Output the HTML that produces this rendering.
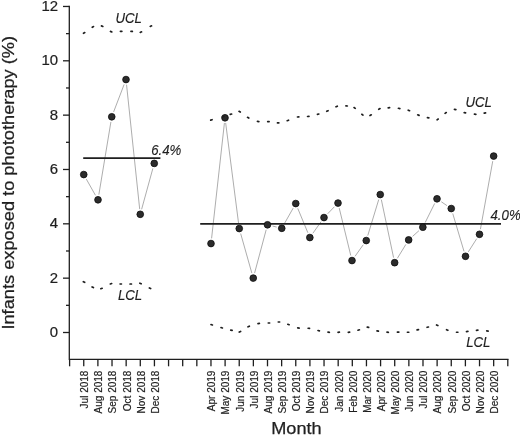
<!DOCTYPE html>
<html><head><meta charset="utf-8"><title>Infants exposed to phototherapy</title>
<style>
html,body{margin:0;padding:0;background:#fff;}
body{width:520px;height:435px;overflow:hidden;}
svg{display:block;font-family:"Liberation Sans",Arial,sans-serif;fill:#1f1f1f;}
.tl{font-size:13.8px;stroke:#1f1f1f;stroke-width:0.2px;}
.xl{font-size:10px;stroke:#1f1f1f;stroke-width:0.2px;}
.it{font-size:13.3px;font-style:italic;stroke:#1f1f1f;stroke-width:0.15px;}
.ti{font-size:17px;stroke:#1f1f1f;stroke-width:0.25px;}
</style></head><body>
<svg width="520" height="435" viewBox="0 0 520 435">
<rect width="520" height="435" fill="#fff"/>

<g stroke="#1f1f1f" stroke-width="1.3" fill="none" stroke-linecap="butt">
<path d="M69.3 5.8V359.35H508.5"/>
<path d="M63 332.50H69.3"/>
<path d="M66 305.33H69.3"/>
<path d="M63 278.16H69.3"/>
<path d="M66 250.99H69.3"/>
<path d="M63 223.82H69.3"/>
<path d="M66 196.65H69.3"/>
<path d="M63 169.48H69.3"/>
<path d="M66 142.31H69.3"/>
<path d="M63 115.14H69.3"/>
<path d="M66 87.97H69.3"/>
<path d="M63 60.80H69.3"/>
<path d="M66 33.63H69.3"/>
<path d="M63 6.46H69.3"/>
<path d="M69.61 359.35V366.3"/>
<path d="M83.75 359.35V366.3"/>
<path d="M97.89 359.35V366.3"/>
<path d="M112.02 359.35V366.3"/>
<path d="M126.16 359.35V366.3"/>
<path d="M140.29 359.35V366.3"/>
<path d="M154.43 359.35V366.3"/>
<path d="M168.56 359.35V366.3"/>
<path d="M182.69 359.35V366.3"/>
<path d="M196.83 359.35V366.3"/>
<path d="M210.97 359.35V366.3"/>
<path d="M225.10 359.35V366.3"/>
<path d="M239.23 359.35V366.3"/>
<path d="M253.37 359.35V366.3"/>
<path d="M267.50 359.35V366.3"/>
<path d="M281.64 359.35V366.3"/>
<path d="M295.77 359.35V366.3"/>
<path d="M309.91 359.35V366.3"/>
<path d="M324.04 359.35V366.3"/>
<path d="M338.18 359.35V366.3"/>
<path d="M352.31 359.35V366.3"/>
<path d="M366.45 359.35V366.3"/>
<path d="M380.58 359.35V366.3"/>
<path d="M394.72 359.35V366.3"/>
<path d="M408.86 359.35V366.3"/>
<path d="M422.99 359.35V366.3"/>
<path d="M437.12 359.35V366.3"/>
<path d="M451.26 359.35V366.3"/>
<path d="M465.39 359.35V366.3"/>
<path d="M479.53 359.35V366.3"/>
<path d="M493.67 359.35V366.3"/>
<path d="M507.80 359.35V366.3"/>
</g>
<text class="tl" x="58" y="337.15" text-anchor="end" textLength="8.3" lengthAdjust="spacingAndGlyphs">0</text>
<text class="tl" x="58" y="282.81" text-anchor="end" textLength="8.3" lengthAdjust="spacingAndGlyphs">2</text>
<text class="tl" x="58" y="228.47" text-anchor="end" textLength="8.3" lengthAdjust="spacingAndGlyphs">4</text>
<text class="tl" x="58" y="174.13" text-anchor="end" textLength="8.3" lengthAdjust="spacingAndGlyphs">6</text>
<text class="tl" x="58" y="119.79" text-anchor="end" textLength="8.3" lengthAdjust="spacingAndGlyphs">8</text>
<text class="tl" x="58" y="65.45" text-anchor="end" textLength="16.6" lengthAdjust="spacingAndGlyphs">10</text>
<text class="tl" x="58" y="11.11" text-anchor="end" textLength="16.6" lengthAdjust="spacingAndGlyphs">12</text>
<text class="xl" transform="translate(88.10 370.6) rotate(-90)" text-anchor="end">Jul 2018</text>
<text class="xl" transform="translate(102.23 370.6) rotate(-90)" text-anchor="end">Aug 2018</text>
<text class="xl" transform="translate(116.37 370.6) rotate(-90)" text-anchor="end">Sep 2018</text>
<text class="xl" transform="translate(130.50 370.6) rotate(-90)" text-anchor="end">Oct 2018</text>
<text class="xl" transform="translate(144.64 370.6) rotate(-90)" text-anchor="end">Nov 2018</text>
<text class="xl" transform="translate(158.78 370.6) rotate(-90)" text-anchor="end">Dec 2018</text>
<text class="xl" transform="translate(215.31 370.6) rotate(-90)" text-anchor="end">Apr 2019</text>
<text class="xl" transform="translate(229.45 370.6) rotate(-90)" text-anchor="end">May 2019</text>
<text class="xl" transform="translate(243.58 370.6) rotate(-90)" text-anchor="end">Jun 2019</text>
<text class="xl" transform="translate(257.72 370.6) rotate(-90)" text-anchor="end">Jul 2019</text>
<text class="xl" transform="translate(271.86 370.6) rotate(-90)" text-anchor="end">Aug 2019</text>
<text class="xl" transform="translate(285.99 370.6) rotate(-90)" text-anchor="end">Sep 2019</text>
<text class="xl" transform="translate(300.12 370.6) rotate(-90)" text-anchor="end">Oct 2019</text>
<text class="xl" transform="translate(314.26 370.6) rotate(-90)" text-anchor="end">Nov 2019</text>
<text class="xl" transform="translate(328.39 370.6) rotate(-90)" text-anchor="end">Dec 2019</text>
<text class="xl" transform="translate(342.53 370.6) rotate(-90)" text-anchor="end">Jan 2020</text>
<text class="xl" transform="translate(356.67 370.6) rotate(-90)" text-anchor="end">Feb 2020</text>
<text class="xl" transform="translate(370.80 370.6) rotate(-90)" text-anchor="end">Mar 2020</text>
<text class="xl" transform="translate(384.94 370.6) rotate(-90)" text-anchor="end">Apr 2020</text>
<text class="xl" transform="translate(399.07 370.6) rotate(-90)" text-anchor="end">May 2020</text>
<text class="xl" transform="translate(413.21 370.6) rotate(-90)" text-anchor="end">Jun 2020</text>
<text class="xl" transform="translate(427.34 370.6) rotate(-90)" text-anchor="end">Jul 2020</text>
<text class="xl" transform="translate(441.48 370.6) rotate(-90)" text-anchor="end">Aug 2020</text>
<text class="xl" transform="translate(455.61 370.6) rotate(-90)" text-anchor="end">Sep 2020</text>
<text class="xl" transform="translate(469.75 370.6) rotate(-90)" text-anchor="end">Oct 2020</text>
<text class="xl" transform="translate(483.88 370.6) rotate(-90)" text-anchor="end">Nov 2020</text>
<text class="xl" transform="translate(498.02 370.6) rotate(-90)" text-anchor="end">Dec 2020</text>
<text class="ti" transform="translate(13.8 329.6) rotate(-90)" textLength="293.7" lengthAdjust="spacingAndGlyphs">Infants exposed to phototherapy (%)</text>
<text class="ti" style="font-size:16.8px" x="271.2" y="434" textLength="50.4" lengthAdjust="spacingAndGlyphs">Month</text>
<path d="M86.31 179.08L95.44 195.27M98.85 194.67L110.90 121.93M113.61 111.94L124.14 84.41M126.55 84.72L139.70 209.13M141.63 209.29L152.87 168.41M211.58 238.38L224.42 122.97M225.66 122.96L238.59 223.39M240.66 233.55L251.84 273.10M254.59 273.08L266.16 229.82M272.55 226.04L276.70 227.06M284.31 223.77L293.19 208.08M297.74 208.35L307.86 232.75M312.85 233.31L321.00 221.79M327.61 213.81L334.39 206.79M339.23 208.10L350.77 255.50M355.02 256.32L363.23 244.78M367.76 235.58L378.74 199.52M381.33 199.64L393.57 257.61M397.37 258.27L405.93 244.33M412.53 236.43L418.97 230.67M425.17 222.55L434.68 203.45M441.29 201.74L446.96 205.61M452.74 213.53L464.01 251.32M468.29 251.91L476.71 238.69M480.43 229.18L492.72 161.17" stroke="#8a8a8a" stroke-width="0.7" fill="none"/>
<path d="M83.2 158.1H160.4M200.2 223.9H501" stroke="#1f1f1f" stroke-width="1.7" fill="none"/>
<circle cx="83.75" cy="174.55" r="3.35" fill="#2b2b2b" stroke="#0c0c0c" stroke-width="0.8"/>
<circle cx="98.00" cy="199.80" r="3.35" fill="#2b2b2b" stroke="#0c0c0c" stroke-width="0.8"/>
<circle cx="111.75" cy="116.80" r="3.35" fill="#2b2b2b" stroke="#0c0c0c" stroke-width="0.8"/>
<circle cx="126.00" cy="79.55" r="3.35" fill="#2b2b2b" stroke="#0c0c0c" stroke-width="0.8"/>
<circle cx="140.25" cy="214.30" r="3.35" fill="#2b2b2b" stroke="#0c0c0c" stroke-width="0.8"/>
<circle cx="154.25" cy="163.40" r="3.35" fill="#2b2b2b" stroke="#0c0c0c" stroke-width="0.8"/>
<circle cx="211.00" cy="243.55" r="3.35" fill="#2b2b2b" stroke="#0c0c0c" stroke-width="0.8"/>
<circle cx="225.00" cy="117.80" r="3.35" fill="#2b2b2b" stroke="#0c0c0c" stroke-width="0.8"/>
<circle cx="239.25" cy="228.55" r="3.35" fill="#2b2b2b" stroke="#0c0c0c" stroke-width="0.8"/>
<circle cx="253.25" cy="278.10" r="3.35" fill="#2b2b2b" stroke="#0c0c0c" stroke-width="0.8"/>
<circle cx="267.50" cy="224.80" r="3.35" fill="#2b2b2b" stroke="#0c0c0c" stroke-width="0.8"/>
<circle cx="281.75" cy="228.30" r="3.35" fill="#2b2b2b" stroke="#0c0c0c" stroke-width="0.8"/>
<circle cx="295.75" cy="203.55" r="3.35" fill="#2b2b2b" stroke="#0c0c0c" stroke-width="0.8"/>
<circle cx="309.85" cy="237.55" r="3.35" fill="#2b2b2b" stroke="#0c0c0c" stroke-width="0.8"/>
<circle cx="324.00" cy="217.55" r="3.35" fill="#2b2b2b" stroke="#0c0c0c" stroke-width="0.8"/>
<circle cx="338.00" cy="203.05" r="3.35" fill="#2b2b2b" stroke="#0c0c0c" stroke-width="0.8"/>
<circle cx="352.00" cy="260.55" r="3.35" fill="#2b2b2b" stroke="#0c0c0c" stroke-width="0.8"/>
<circle cx="366.25" cy="240.55" r="3.35" fill="#2b2b2b" stroke="#0c0c0c" stroke-width="0.8"/>
<circle cx="380.25" cy="194.55" r="3.35" fill="#2b2b2b" stroke="#0c0c0c" stroke-width="0.8"/>
<circle cx="394.65" cy="262.70" r="3.35" fill="#2b2b2b" stroke="#0c0c0c" stroke-width="0.8"/>
<circle cx="408.65" cy="239.90" r="3.35" fill="#2b2b2b" stroke="#0c0c0c" stroke-width="0.8"/>
<circle cx="422.85" cy="227.20" r="3.35" fill="#2b2b2b" stroke="#0c0c0c" stroke-width="0.8"/>
<circle cx="437.00" cy="198.80" r="3.35" fill="#2b2b2b" stroke="#0c0c0c" stroke-width="0.8"/>
<circle cx="451.25" cy="208.55" r="3.35" fill="#2b2b2b" stroke="#0c0c0c" stroke-width="0.8"/>
<circle cx="465.50" cy="256.30" r="3.35" fill="#2b2b2b" stroke="#0c0c0c" stroke-width="0.8"/>
<circle cx="479.50" cy="234.30" r="3.35" fill="#2b2b2b" stroke="#0c0c0c" stroke-width="0.8"/>
<circle cx="493.65" cy="156.05" r="3.35" fill="#2b2b2b" stroke="#0c0c0c" stroke-width="0.8"/>
<path d="M83.54 33.24L84.76 32.56M92.29 27.24L93.51 26.56M101.51 25.86L102.79 26.44M110.51 31.36L111.79 31.94M120.45 31.38L121.85 31.42M130.95 31.39L132.35 31.41M140.28 32.47L141.52 31.83M150.28 26.47L151.52 25.83M83.37 281.69L84.63 282.31M92.12 286.94L93.38 287.56M100.84 288.74L102.16 288.26M110.34 283.99L111.66 283.51M120.05 284.02L121.45 283.98M130.05 284.00L131.45 284.00M139.86 283.22L141.14 283.78M149.36 287.97L150.64 288.53M210.73 120.16L212.07 119.74M222.48 116.81L223.82 116.39M230.22 114.37L231.58 114.03M239.04 111.35L240.26 112.05M247.54 117.35L248.76 118.05M257.46 121.36L258.84 121.54M267.70 121.68L269.10 121.72M277.45 122.93L278.85 122.97M287.24 120.68L288.56 120.22M297.45 117.02L298.85 116.88M307.55 116.52L308.95 116.38M317.47 114.38L318.83 114.02M326.77 111.25L328.03 110.65M336.02 106.75L337.28 106.15M345.95 105.90L347.35 106.00M354.07 107.56L355.23 108.34M361.82 114.31L362.98 115.09M370.03 115.53L371.27 114.87M378.78 109.28L380.02 108.62M388.21 107.80L389.59 107.60M398.47 108.29L399.83 108.61M408.26 110.16L409.54 110.74M417.76 114.81L419.04 115.39M427.46 117.70L428.84 117.90M437.07 119.84L438.23 119.06M445.07 113.34L446.23 112.56M454.46 109.31L455.84 109.59M464.21 112.56L465.59 112.84M474.46 114.11L475.84 114.29M484.21 113.08L485.59 112.82M211.03 324.54L212.37 324.96M221.03 327.54L222.37 327.96M230.76 330.13L232.14 330.37M239.32 332.06L240.58 331.44M248.07 326.81L249.33 326.19M258.01 323.59L259.39 323.41M268.25 323.02L269.65 322.98M278.25 322.02L279.65 321.98M287.79 324.27L289.11 324.73M297.75 327.92L299.15 328.08M308.10 328.27L309.50 328.43M318.02 330.50L319.38 330.80M328.00 332.22L329.40 332.28M338.00 332.29L339.40 332.21M348.25 332.29L349.65 332.21M358.03 330.20L359.37 329.80M367.28 327.06L368.62 327.44M377.03 330.81L378.37 331.19M387.00 332.20L388.40 332.30M397.40 332.17L398.80 332.13M407.40 332.27L408.80 332.23M417.13 329.94L418.47 329.56M427.11 327.27L428.49 327.03M436.55 324.98L437.85 325.52M446.55 329.73L447.85 330.27M456.50 332.23L457.90 332.27M466.51 331.58L467.89 331.42M476.51 330.33L477.89 330.17M486.75 330.94L488.15 331.06" stroke="#1f1f1f" stroke-width="1.7" stroke-linecap="round" fill="none"/>
<text class="it" x="115.5" y="23.0" style="font-size:14px" textLength="26.4" lengthAdjust="spacingAndGlyphs">UCL</text>
<text class="it" x="118" y="300.4" style="font-size:14px" textLength="24.2" lengthAdjust="spacingAndGlyphs">LCL</text>
<text class="it" x="151.2" y="154.5" style="font-size:15px" textLength="30.2" lengthAdjust="spacingAndGlyphs">6.4%</text>
<text class="it" x="465.5" y="106.6" style="font-size:14px" textLength="26.4" lengthAdjust="spacingAndGlyphs">UCL</text>
<text class="it" x="466.2" y="347.4" style="font-size:14px" textLength="24.2" lengthAdjust="spacingAndGlyphs">LCL</text>
<text class="it" x="490.5" y="219.5" style="font-size:15px" textLength="30.2" lengthAdjust="spacingAndGlyphs">4.0%</text>
</svg></body></html>
